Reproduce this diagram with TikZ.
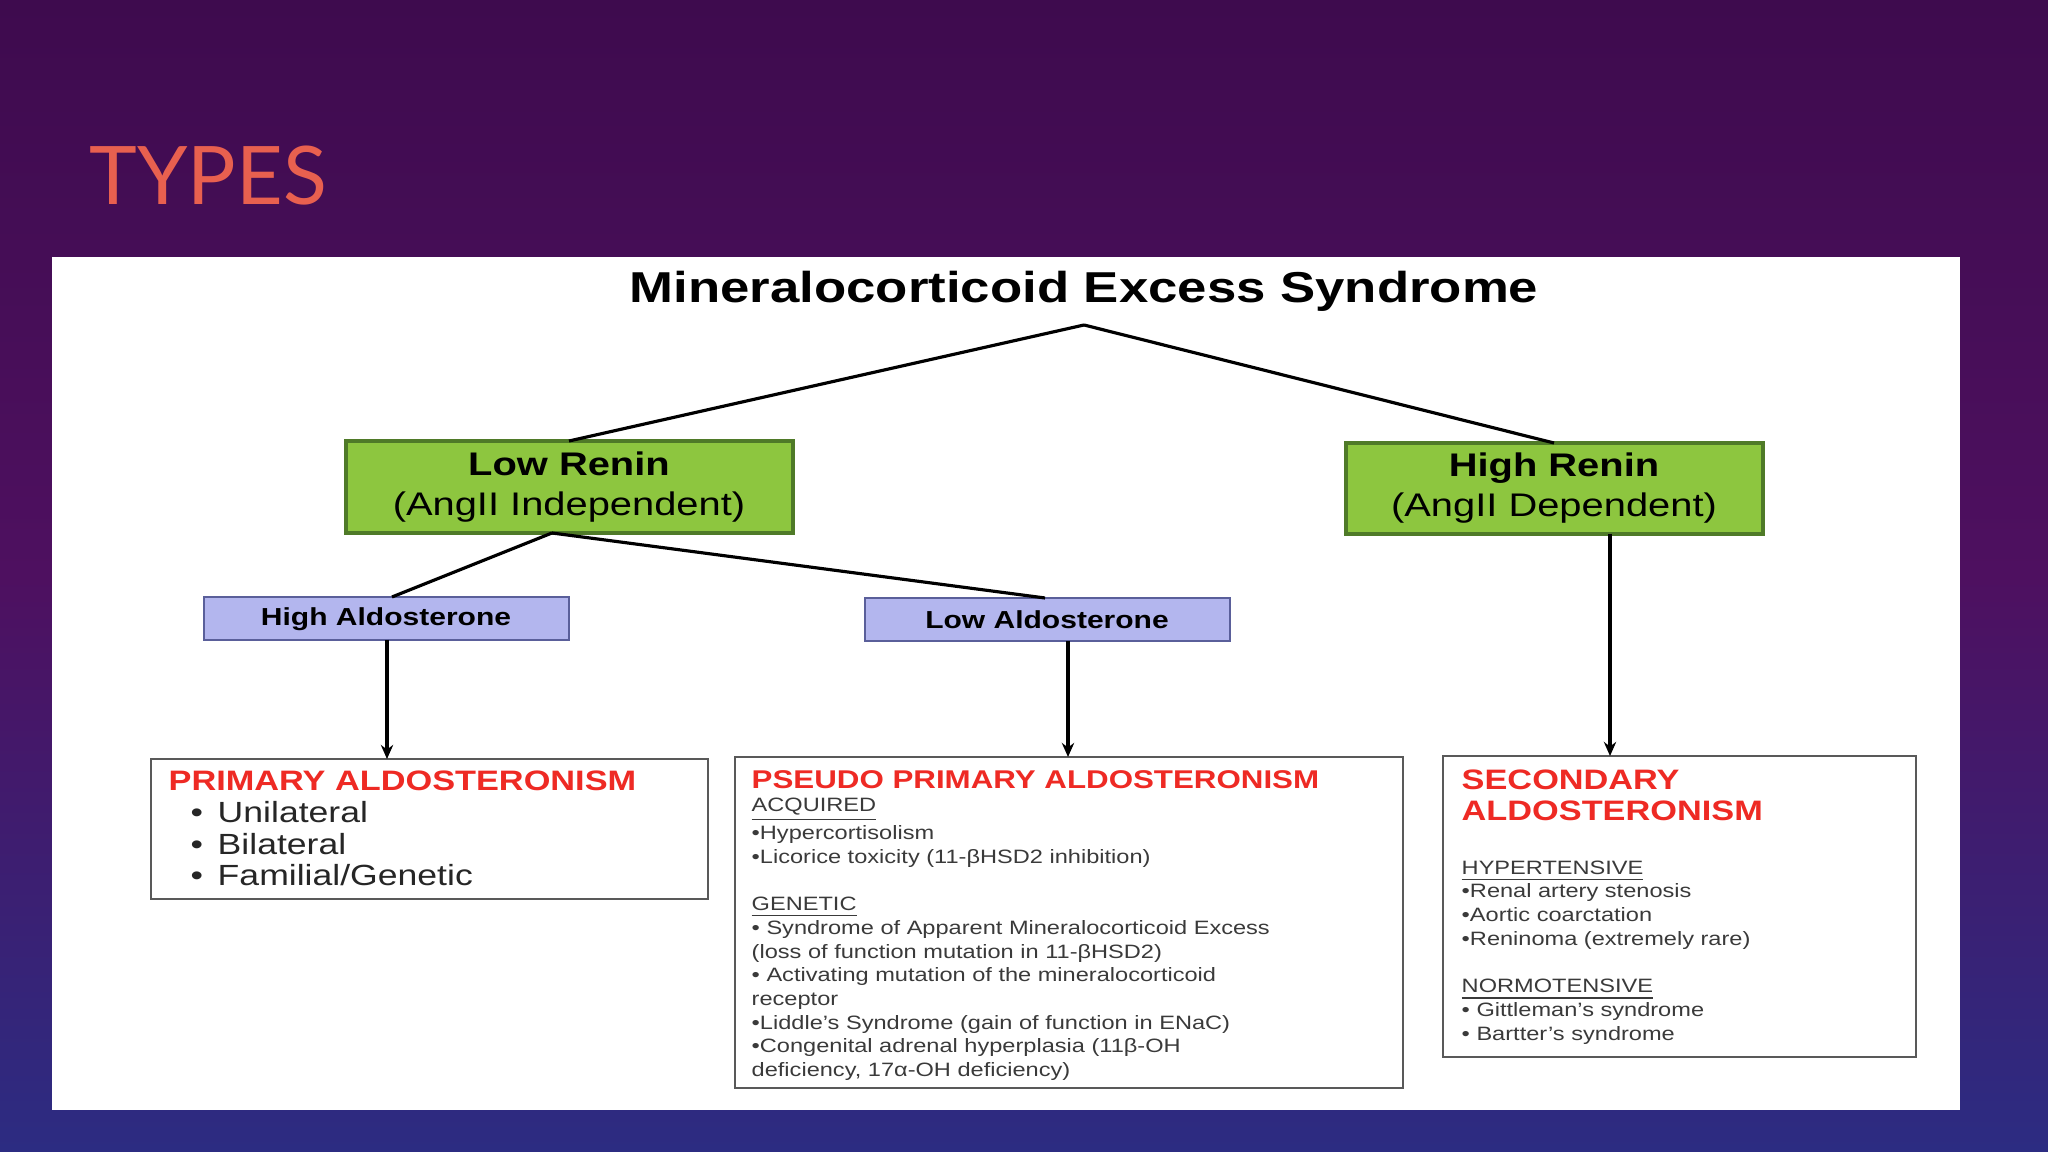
\documentclass[tikz,border=0pt]{standalone}
\usepackage{fontspec}
\setmainfont{Liberation Sans}[FakeStretch=1.22]
\newfontfamily\typesfont{Lato}
\usetikzlibrary{arrows.meta}
\definecolor{bgtop}{HTML}{3E0B4E}
\definecolor{bgmid}{HTML}{4E1060}
\definecolor{bgbot}{HTML}{2C2C82}
\definecolor{grn}{HTML}{8DC63F}
\definecolor{grnb}{HTML}{4F7A28}
\definecolor{lav}{HTML}{B3B6EE}
\definecolor{lavb}{HTML}{5A5F9A}
\definecolor{redt}{HTML}{EE2A24}
\definecolor{greyt}{HTML}{3A3A3A}
\definecolor{typesc}{HTML}{E8604F}
\tikzset{
  greenbox/.style={draw=grnb,line width=1pt,fill=grn},
  lavbox/.style={draw=lavb,line width=0.8pt,fill=lav},
  wbox/.style={draw=black!65,line width=0.8pt,fill=white},
  conn/.style={line width=0.9pt,black},
  arr/.style={conn,-{Stealth[length=4pt,width=3.5pt]}},
  body/.style={anchor=north west,align=left,inner sep=0pt,text=greyt,font=\fontsize{5.5}{6.75}\selectfont},
}
\begin{document}
\begin{tikzpicture}[x=0.1mm,y=-0.1mm]
\useasboundingbox (0,0) rectangle (2048,1152);
\shade[top color=bgtop,bottom color=bgbot,middle color=bgmid] (0,0) rectangle (2048,1152);
\node[anchor=base west,inner sep=0pt,text=typesc,font=\typesfont\fontsize{23}{26}\selectfont] (types) at (89,205) {TYPES};
\fill[white] (52,257) rectangle (1960,1110);

\node[font=\bfseries\fontsize{12.3}{14}\selectfont,inner sep=0pt] (title) at (1084,291) {Mineralocorticoid Excess Syndrome};
\coordinate (apex) at (1084,325);

\draw[greenbox] (346,441) rectangle (793,533);
\node[align=center,inner sep=0pt,font=\fontsize{9.3}{11.5}\selectfont] (low) at (569,487) {\textbf{Low Renin}\\(AngII Independent)};
\draw[greenbox] (1346,443) rectangle (1763,534);
\node[align=center,inner sep=0pt,font=\fontsize{9.3}{11.5}\selectfont] (high) at (1554,488) {\textbf{High Renin}\\(AngII Dependent)};
\coordinate (lowN) at (569,441);
\coordinate (highN) at (1554,443);
\coordinate (lowS) at (552,533);
\coordinate (highS) at (1610,534);

\draw[lavbox] (204,597) rectangle (569,640);
\node[font=\bfseries\fontsize{7}{8}\selectfont,inner sep=0pt] (hald) at (386,619) {High Aldosterone};
\draw[lavbox] (865,598) rectangle (1230,641);
\node[font=\bfseries\fontsize{7}{8}\selectfont,inner sep=0pt] (lald) at (1047,620) {Low Aldosterone};
\coordinate (haldN) at (392,597);
\coordinate (laldN) at (1045,598);
\coordinate (haldS) at (387,640);
\coordinate (laldS) at (1068,641);

\draw[conn] (apex) -- (lowN);
\draw[conn] (apex) -- (highN);
\draw[conn] (lowS) -- (haldN);
\draw[conn] (lowS) -- (laldN);

\draw[wbox] (151,759) rectangle (708,899);
\draw[wbox] (735,757) rectangle (1403,1088);
\draw[wbox] (1443,756) rectangle (1916,1057);
\coordinate (primN) at (387,759);
\coordinate (pseuN) at (1068,757);
\coordinate (secN) at (1610,756);
\draw[arr] (haldS) -- (primN);
\draw[arr] (laldS) -- (pseuN);
\draw[arr] (highS) -- (secN);

% primary
\node[anchor=north west,inner sep=0pt,text=redt,font=\bfseries\fontsize{8}{9}\selectfont] (pt) at (168,770) {PRIMARY ALDOSTERONISM};
\node[anchor=north west,inner sep=0pt,align=left,text=black!85,font=\fontsize{8.3}{8.9}\selectfont] (pl) at (190,801)
 {\textbullet\enspace Unilateral\\ \textbullet\enspace Bilateral\\ \textbullet\enspace Familial/Genetic};

% pseudo
\node[anchor=north west,inner sep=0pt,text=redt,font=\bfseries\fontsize{7.3}{9}\selectfont] (pst) at (751,770) {PSEUDO PRIMARY ALDOSTERONISM};
\node[body] (psl) at (751,797)
 {\underline{ACQUIRED}\\
 •Hypercortisolism\\
 •Licorice toxicity (11-βHSD2 inhibition)\\[6.75pt]
 \underline{GENETIC}\\
 • Syndrome of Apparent Mineralocorticoid Excess\\
 (loss of function mutation in 11-βHSD2)\\
 • Activating mutation of the mineralocorticoid\\
 receptor\\
 •Liddle’s Syndrome (gain of function in ENaC)\\
 •Congenital adrenal hyperplasia (11β-OH\\
 deficiency, 17α-OH deficiency)};

% secondary
\node[anchor=north west,inner sep=0pt,align=left,text=redt,font=\bfseries\fontsize{8}{8.9}\selectfont] (sst) at (1461,769) {SECONDARY\\ALDOSTERONISM};
\node[body] (ssl) at (1461,860)
 {\underline{HYPERTENSIVE}\\
 •Renal artery stenosis\\
 •Aortic coarctation\\
 •Reninoma (extremely rare)\\[6.75pt]
 \underline{NORMOTENSIVE}\\
 • Gittleman’s syndrome\\
 • Bartter’s syndrome};
\end{tikzpicture}
\end{document}
